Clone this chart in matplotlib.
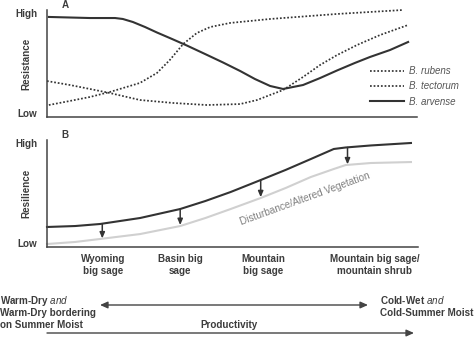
"""Resistance / resilience vs productivity conceptual chart (panels A and B)."""

import matplotlib

matplotlib.use("Agg")
import matplotlib.pyplot as plt  # noqa: E402

plt.rcParams["font.family"] = ["Liberation Sans", "DejaVu Sans"]
plt.rcParams["mathtext.fontset"] = "custom"
plt.rcParams["mathtext.it"] = "Liberation Sans:italic"
plt.rcParams["mathtext.rm"] = "Liberation Sans"

INK = "#333333"
TXT = "#3c3c3c"
W, H = 474, 337

# panel A: resistance (0 = low, 100 = high) along productivity (0..100)
rubens_x = [0.5, 6.2, 11.6, 17.0, 25.1, 29.7, 33.2, 36.8, 40.5, 44.1, 49.5, 60.3, 78.4, 96.2]
rubens_y = [11.2, 15.0, 18.7, 23.4, 31.8, 41.1, 53.3, 68.2, 78.5, 84.1, 87.9, 91.6, 96.3, 100]

tectorum_x = [0, 6.2, 11.6, 17.0, 25.1, 34.1, 43.2, 52.2, 56.8, 60.3, 63.8, 69.2, 73.8,
              78.4, 83.8, 90.0, 97.6]
tectorum_y = [33.6, 29.9, 26.2, 22.4, 15.9, 13.1, 11.2, 12.1, 15.9, 20.6, 25.2, 37.4, 48.6,
              57.9, 67.3, 76.6, 86.0]

arvense_x = [0.5, 11.6, 18.4, 20.5, 23.2, 26.5, 29.7, 33.8, 37.8, 42.7, 47.6, 52.2, 56.2,
             60.3, 63.8, 69.2, 73.8, 78.4, 83.2, 87.3, 92.7, 97.6]
arvense_y = [93.5, 92.5, 92.5, 91.6, 88.8, 84.1, 79.0, 72.9, 66.8, 58.9, 50.9, 43.0, 35.5,
             29.0, 26.2, 29.9, 36.4, 43.5, 50.5, 56.1, 62.6, 70.1]

# panel B: resilience, intact vs after disturbance
intact_x = [0, 7.6, 14.3, 25.1, 35.9, 42.7, 49.5, 57.6, 64.3, 71.1, 77.3, 80.5, 87.3, 98.1]
intact_y = [18.7, 19.6, 21.5, 27.1, 35.5, 43.0, 51.4, 62.6, 72.0, 82.2, 91.6, 93.0, 94.9, 97.2]
altered_x = intact_x
altered_y = [2.8, 4.7, 7.5, 12.1, 19.6, 27.1, 35.5, 45.8, 55.1, 65.4, 72.9, 76.6, 78.5, 79.4]

# disturbance arrows: productivity, drop from intact to altered
drop_x = [14.9, 35.9, 57.6, 81]
drop_top = [21.6, 35.5, 62.6, 93.0]
drop_bot = [8.0, 20.5, 46.5, 77.2]

veg_labels = ["Wyoming\nbig sage", "Basin big\nsage", "Mountain\nbig sage",
              "Mountain big sage/\nmountain shrub"]
veg_px = [103, 180, 263, 375]

fig = plt.figure(figsize=(W / 100, H / 100), dpi=100)


def px_axes(left, top, right, bottom):
    return fig.add_axes([left / W, 1 - bottom / H, (right - left) / W, (bottom - top) / H])


def style(ax, ylab, letter):
    ax.set_xlim(0, 100)
    ax.set_ylim(0, 100)
    for s in ("top", "right"):
        ax.spines[s].set_visible(False)
    for s in ("left", "bottom"):
        ax.spines[s].set_color("#444444")
        ax.spines[s].set_linewidth(1.1)
    ax.set_xticks([])
    ax.set_yticks([4, 97])
    ax.set_yticklabels(["Low", "High"], fontsize=7.1, fontweight="bold", color=TXT)
    ax.tick_params(axis="y", length=0, pad=7)
    ax.set_ylabel(ylab, fontsize=7.1, fontweight="bold", color=TXT)
    ax.yaxis.set_label_coords(-16 / 370, 0.5)
    ax.text(0.04, 1.05, letter, transform=ax.transAxes, fontsize=7.1,
            fontweight="bold", color=TXT, va="center")


axA = px_axes(47, 10, 417, 117)
style(axA, "Resistance", "A")
dots = (0, (1, 1.1))
axA.plot(rubens_x, rubens_y, color=INK, lw=1.25, ls=dots, clip_on=False, label="B. rubens")
axA.plot(tectorum_x, tectorum_y, color=INK, lw=1.25, ls=dots, clip_on=False, label="B. tectorum")
axA.plot(arvense_x, arvense_y, color=INK, lw=1.5, clip_on=False, label="B. arvense")
leg = axA.legend(loc="upper left", bbox_to_anchor=(370 / W, 1 - 66 / H),
                 bbox_transform=fig.transFigure, frameon=False, fontsize=7,
                 handlelength=3.5, handletextpad=0.55, labelspacing=0.55,
                 borderpad=0, borderaxespad=0)
for t in leg.get_texts():
    t.set_fontstyle("italic")
    t.set_color("#555555")

axB = px_axes(47, 140, 418, 247)
style(axB, "Resilience", "B")
axB.plot(intact_x, intact_y, color=INK, lw=1.5, clip_on=False)
axB.plot(altered_x, altered_y, color="#d0d0d0", lw=1.5, clip_on=False)
for x, y0, y1 in zip(drop_x, drop_top, drop_bot, strict=True):
    axB.annotate("", xy=(x, y1), xytext=(x, y0),
                 arrowprops=dict(arrowstyle="-|>,head_length=0.35,head_width=0.15",
                                 color=INK, lw=1.1, shrinkA=0, shrinkB=0))

# full-figure overlay in pixel coordinates for the annotation text
ov = fig.add_axes([0, 0, 1, 1])
ov.set_xlim(0, W)
ov.set_ylim(H, 0)
ov.axis("off")

ov.text(305, 199, "Disturbance/Altered Vegetation", fontsize=7.2, color="#808080",
        rotation=20, ha="center", va="center", rotation_mode="anchor")

for lab, x in zip(veg_labels, veg_px, strict=True):
    ov.text(x, 265, lab, fontsize=7.1, fontweight="bold", color=TXT,
            ha="center", va="center", linespacing=1.25)

bold = dict(fontsize=7.1, fontweight="bold", color=TXT, va="baseline")
left_lines = ["Warm-Dry $\\mathit{and}$", "Warm-Dry bordering", "on Summer Moist"]
right_lines = ["Cold-Wet $\\mathit{and}$", "Cold-Summer Moist"]
for i, s in enumerate(left_lines):
    ov.text(0, 303.5 + 12.5 * i, s, ha="left", **bold)
for i, s in enumerate(right_lines):
    ov.text(380, 303.5 + 12.5 * i, s, ha="left", **bold)
ov.text(229, 328, "Productivity", ha="center", **bold)

ov.annotate("", xy=(100, 305), xytext=(368, 305),
            arrowprops=dict(arrowstyle="<|-|>,head_length=0.45,head_width=0.2",
                            color="#444444", lw=1.0, shrinkA=0, shrinkB=0))
ov.annotate("", xy=(414, 333), xytext=(47, 333),
            arrowprops=dict(arrowstyle="-|>,head_length=0.45,head_width=0.2",
                            color="#444444", lw=1.0, shrinkA=0, shrinkB=0))

fig.savefig("out.png", dpi=100)
